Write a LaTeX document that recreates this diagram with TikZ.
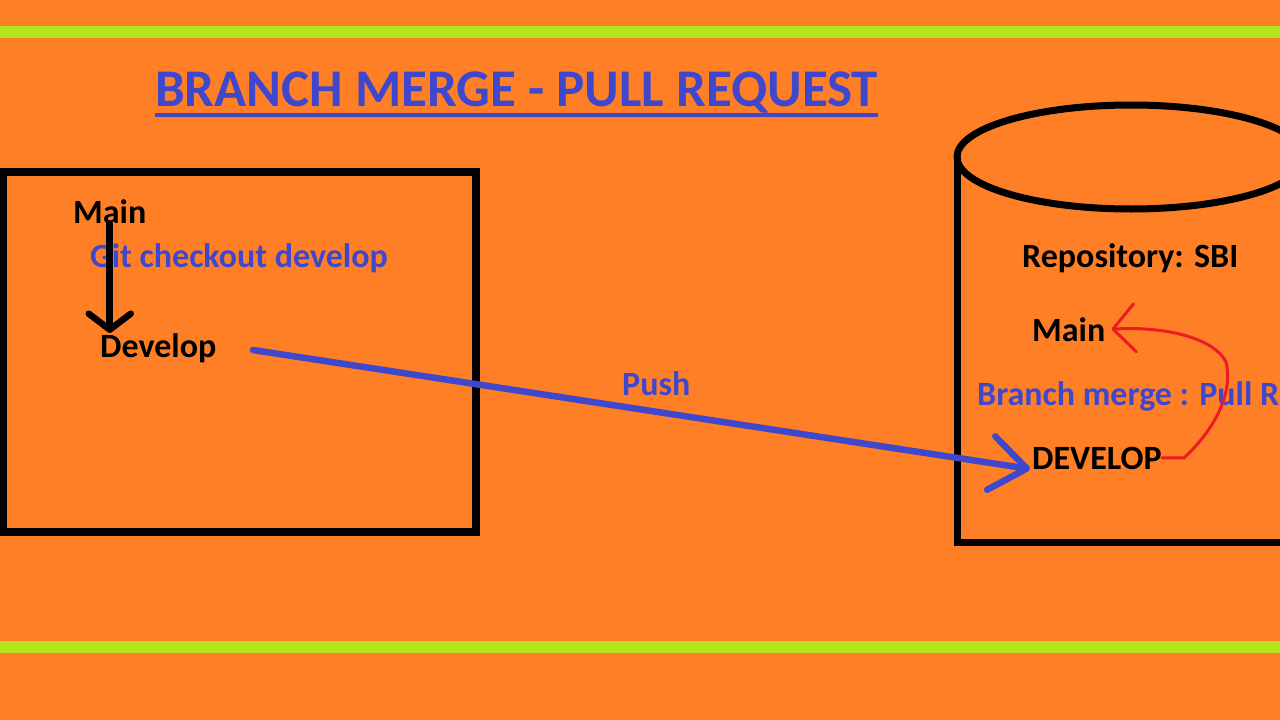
\documentclass[tikz,border=0pt]{standalone}
\usepackage{fontspec}
\setmainfont{Carlito}
\usetikzlibrary{arrows.meta}

\definecolor{paintorange}{HTML}{FF7F27}
\definecolor{paintlime}{HTML}{B5E61D}
\definecolor{paintblue}{HTML}{3F48CC}
\definecolor{paintred}{HTML}{ED1C24}

\begin{document}
\begin{tikzpicture}[x=1pt,y=-1pt,
    lbl/.style={inner sep=0pt, anchor=base west, font=\fontsize{34}{36}\selectfont\bfseries},
    bluelbl/.style={lbl, text=paintblue},
    pen/.style={line width=6.5pt, line cap=round, line join=round}]

\fill[paintorange] (0,0) rectangle (1280,720);
\useasboundingbox (0,0) rectangle (1280,720);
\clip (0,0) rectangle (1280,720);

% green stripes
\foreach \y in {32,646.5}
    \fill[paintlime] (0,\y-6) rectangle (1280,\y+6);

% title
\node[bluelbl, font=\fontsize{53}{55}\selectfont\bfseries] (title) at (155,106) {BRANCH MERGE - PULL REQUEST};
\draw[paintblue, line width=4pt] ([yshift=-9pt]title.base west) -- ([yshift=-9pt]title.base east);

% local machine
\draw[line width=8pt] (3,172) rectangle (476,532);

\node[lbl] (main) at (73,223) {Main};
\node[bluelbl] (checkout) at (90,267) {Git checkout develop};
\node[lbl] (develop) at (100,357) {Develop};

\draw[pen, -{Straight Barb[round,length=16pt,width=42pt]}] (main.south) -- (main.south |- develop.north);

% remote repository
\coordinate (cyl) at (1131,157);
\draw[line width=7pt] (cyl) ellipse [x radius=174pt, y radius=52pt];
\draw[line width=7pt] (957,157) -- (957,542) -- (1290,542);

\node[lbl] (repo) at (1022,267) {Repository: SBI};
\node[lbl] (repmain) at (1032,341) {Main};
\node[bluelbl] (merge) at (977,405) {Branch merge : Pull R};
\node[lbl] (repdev) at (1032,469) {DEVELOP};

% push
\coordinate (pushstart) at (253,350);
\draw[pen, paintblue, -{Straight Barb[round,length=36pt,width=54pt]}] (pushstart) -- ([xshift=-2pt]repdev.base west);
\node[bluelbl] (push) at (622,395) {Push};

% pull request
\draw[paintred, line width=3pt, line cap=round, -{Straight Barb[round,length=22pt,width=48pt]}]
    (repdev.east) -- ++(22,0) .. controls (1212,432) and (1234,395) .. (1226,362)
    .. controls (1214,338) and (1165,326) .. ([xshift=6pt]repmain.east);

\end{tikzpicture}
\end{document}
